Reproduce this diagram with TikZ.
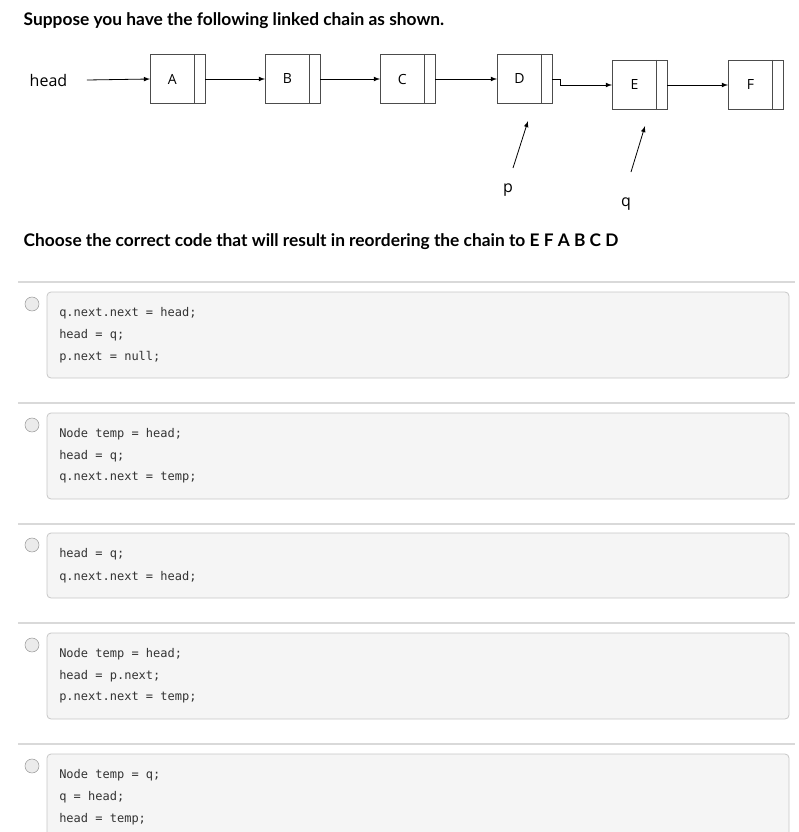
\documentclass[tikz,border=0pt]{standalone}
\usepackage{fontspec}
\setmainfont{Lato}
\newfontfamily\codefont{DejaVu Sans Mono}
\newfontfamily\diagfont{Open Sans}
\begin{document}
\begin{tikzpicture}[x=0.75pt,y=-0.75pt,
  cell/.style={draw=black!70,line width=0.6pt,minimum width=41pt,minimum height=37pt,inner sep=0pt,font=\diagfont\fontsize{10.5}{12}\selectfont},
  link/.style={-latex,line width=0.6pt},
  sep/.style={draw=black!15,line width=0.8pt},
  radio/.style={circle,draw=black!40,fill=black!8,minimum size=10.5pt,inner sep=0pt},
  codebox/.style={draw=black!22,fill=black!4,rounded corners=3pt,line width=0.6pt},
  code/.style={anchor=west,inner sep=0pt,font=\codefont\fontsize{9}{11}\selectfont,text=black!80}]
\useasboundingbox (0,0) rectangle (799,832);
\node[anchor=west,font=\bfseries\fontsize{13}{15}\selectfont] (title) at (19,21) {Suppose you have the following linked chain as shown.};
\node[anchor=west,font=\diagfont\fontsize{12}{14}\selectfont] (head) at (25,80) {head};
\foreach \n/\x/\y in {A/150/79,B/265/79,C/380/79,D/497/79,E/612/85,F/728/85}{
  \node[cell,anchor=west] (\n) at (\x,\y) {\hspace*{-8pt}\n};
  \draw[black!70,line width=0.6pt] ([xshift=-8]\n.north east) -- ([xshift=-8]\n.south east);
}
\draw[link] (head.east)++(15,0) coordinate (h0) -- (A.west);
\draw[link] (A.east) -- (B.west);
\draw[link] (B.east) -- (C.west);
\draw[link] (C.east) -- (D.west);
\draw[link] (D.east) -- ++(8,0) |- (E.west);
\draw[link] (E.east) -- (F.west);
\node[font=\diagfont\fontsize{12}{14}\selectfont] (p) at (508,190) {p};
\node[font=\diagfont\fontsize{12}{14}\selectfont] (q) at (626,204) {q};
\coordinate (pt) at (513,168); \coordinate (ph) at (528,121);
\coordinate (qt) at (631,172); \coordinate (qh) at (645,126);
\draw[link] (pt) -- (ph);
\draw[link] (qt) -- (qh);
\node[anchor=west,font=\bfseries\fontsize{13}{15}\selectfont] (qq) at (19,242) {Choose the correct code that will result in reordering the chain to E F A B C D};
\foreach \s in {282,403,524,623,744}{\draw[sep] (18,\s) -- (795,\s);}
\foreach \i/\t/\b in {1/292/378,2/413/499,3/533/598,4/633/719,5/754/840}{
  \node[radio] (r\i) at (32,\t+12) {};
  \draw[codebox] (47,\t) rectangle (789,\b);
}
\node[code] (c11) at (59,313) {q.next.next = head;};
\node[code] (c12) at (59,335) {head = q;};
\node[code] (c13) at (59,357) {p.next = null;};
\node[code] (c21) at (59,434) {Node temp = head;};
\node[code] (c22) at (59,456) {head = q;};
\node[code] (c23) at (59,478) {q.next.next = temp;};
\node[code] (c31) at (59,554) {head = q;};
\node[code] (c32) at (59,577) {q.next.next = head;};
\node[code] (c41) at (59,654) {Node temp = head;};
\node[code] (c42) at (59,676) {head = p.next;};
\node[code] (c43) at (59,698) {p.next.next = temp;};
\node[code] (c51) at (59,775) {Node temp = q;};
\node[code] (c52) at (59,797) {q = head;};
\node[code] (c53) at (59,819) {head = temp;};
\end{tikzpicture}
\end{document}
